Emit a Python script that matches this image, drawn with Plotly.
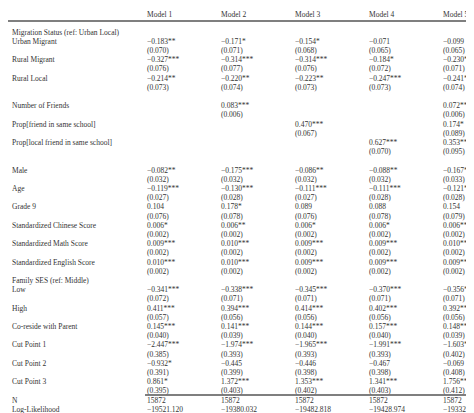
import plotly.graph_objects as go

models = ["Model 1", "Model 2", "Model 3", "Model 4", "Model 5"]

# one entry per text line of the table; coefficient lines followed by their (se) lines
labels = ["Migration Status (ref: Urban Local)", "Urban Migrant", "", "Rural Migrant", "", "Rural Local", "", "",
          "Number of Friends", "", "Prop[friend in same school]", "", "Prop[local friend in same school]", "", "",
          "Male", "", "Age", "", "Grade 9", "", "Standardized Chinese Score", "", "Standardized Math Score", "",
          "Standardized English Score", "", "Family SES (ref: Middle)", "Low", "", "High", "", "Co-reside with Parent", "",
          "Cut Point 1", "", "Cut Point 2", "", "Cut Point 3", "", "N", "Log-Likelihood"]

m1 = ["", "−0.183**", "(0.070)", "−0.327***", "(0.076)", "−0.214**", "(0.073)", "",
      "", "", "", "", "", "", "",
      "−0.082**", "(0.032)", "−0.119***", "(0.027)", "0.104", "(0.076)", "0.006*", "(0.002)", "0.009***", "(0.002)",
      "0.010***", "(0.002)", "", "−0.341***", "(0.072)", "0.411***", "(0.057)", "0.145***", "(0.040)",
      "−2.447***", "(0.385)", "−0.932*", "(0.391)", "0.861*", "(0.395)", "15872", "−19521.120"]
m2 = ["", "−0.171*", "(0.071)", "−0.314***", "(0.077)", "−0.220**", "(0.074)", "",
      "0.083***", "(0.006)", "", "", "", "", "",
      "−0.175***", "(0.032)", "−0.130***", "(0.028)", "0.178*", "(0.078)", "0.006**", "(0.002)", "0.010***", "(0.002)",
      "0.010***", "(0.002)", "", "−0.338***", "(0.071)", "0.394***", "(0.056)", "0.141***", "(0.039)",
      "−1.974***", "(0.393)", "−0.445", "(0.399)", "1.372***", "(0.403)", "15872", "−19380.032"]
m3 = ["", "−0.154*", "(0.068)", "−0.314***", "(0.076)", "−0.223**", "(0.073)", "",
      "", "", "0.470***", "(0.067)", "", "", "",
      "−0.086**", "(0.032)", "−0.111***", "(0.027)", "0.089", "(0.076)", "0.006*", "(0.002)", "0.009***", "(0.002)",
      "0.009***", "(0.002)", "", "−0.345***", "(0.071)", "0.414***", "(0.056)", "0.144***", "(0.040)",
      "−1.965***", "(0.393)", "−0.446", "(0.398)", "1.353***", "(0.402)", "15872", "−19482.818"]
m4 = ["", "−0.071", "(0.065)", "−0.184*", "(0.072)", "−0.247***", "(0.073)", "",
      "", "", "", "", "0.627***", "(0.070)", "",
      "−0.088**", "(0.032)", "−0.111***", "(0.028)", "0.088", "(0.078)", "0.006*", "(0.002)", "0.009***", "(0.002)",
      "0.009***", "(0.002)", "", "−0.370***", "(0.071)", "0.402***", "(0.056)", "0.157***", "(0.040)",
      "−1.991***", "(0.393)", "−0.467", "(0.398)", "1.341***", "(0.403)", "15872", "−19428.974"]
m5 = ["", "−0.099", "(0.065)", "−0.230**", "(0.071)", "−0.241**", "(0.074)", "",
      "0.072***", "(0.006)", "0.174*", "(0.089)", "0.353***", "(0.095)", "",
      "−0.167***", "(0.033)", "−0.121***", "(0.028)", "0.154", "(0.079)", "0.006**", "(0.002)", "0.010***", "(0.002)",
      "0.009***", "(0.002)", "", "−0.356***", "(0.071)", "0.392***", "(0.056)", "0.148***", "(0.039)",
      "−1.603***", "(0.402)", "−0.069", "(0.408)", "1.756***", "(0.412)", "15872", "−19332.627"]

col_x = [137, 211, 285, 359, 433]
top = 24
pitch = 9.2
font = dict(family="Liberation Serif", size=7.5, color="#333")

fig = go.Figure()
ann = []
for i, m in enumerate(models):
    ann.append(dict(x=col_x[i], y=6, text=m))
rows_y = [top + k * pitch for k in range(len(labels))]
for k, lab in enumerate(labels):
    if lab:
        ann.append(dict(x=2, y=rows_y[k], text=lab))
    for i, col in enumerate([m1, m2, m3, m4, m5]):
        if col[k]:
            ann.append(dict(x=col_x[i], y=rows_y[k], text=col[k]))
for a in ann:
    a.update(xref="x", yref="y", xanchor="left", yanchor="middle", showarrow=False, font=font)

line_n = rows_y[labels.index("N")] - 5
fig.update_layout(
    width=474, height=413, margin=dict(l=0, r=0, t=0, b=0),
    plot_bgcolor="white", paper_bgcolor="white", showlegend=False,
    xaxis=dict(range=[0, 474], visible=False, fixedrange=True),
    yaxis=dict(range=[413, 0], visible=False, fixedrange=True),
    annotations=ann,
    shapes=[
        dict(type="line", xref="x", yref="y", x0=0, x1=474, y0=13, y1=13, line=dict(color="#555", width=1.6)),
        dict(type="line", xref="x", yref="y", x0=137, x1=474, y0=line_n, y1=line_n, line=dict(color="#555", width=1.6)),
    ],
)
fig.write_html("out.html")
